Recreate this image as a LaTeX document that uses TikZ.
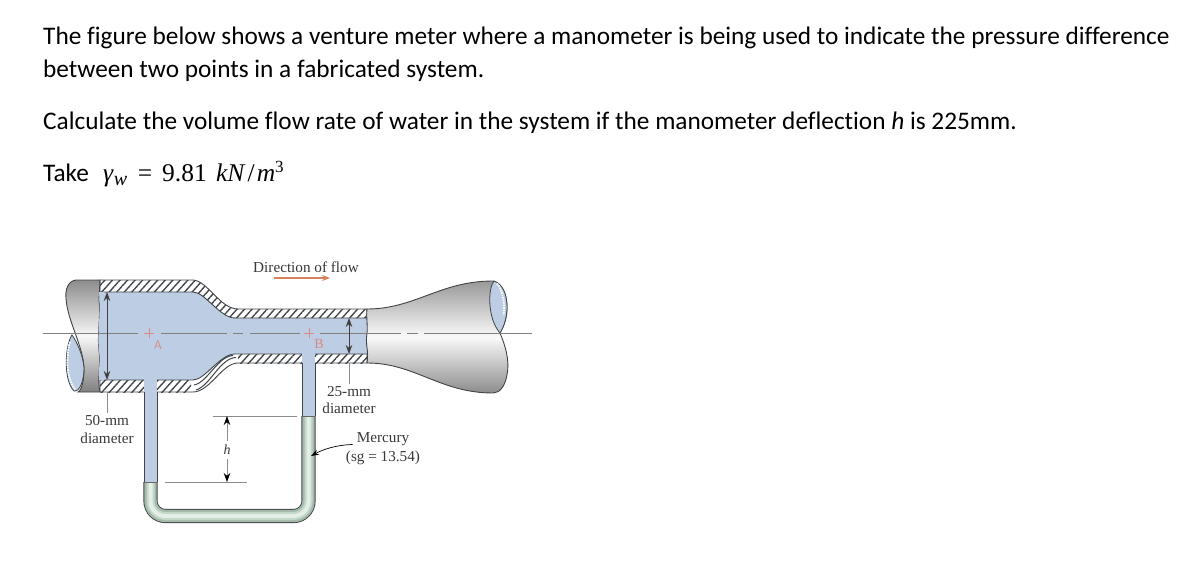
\documentclass[tikz,border=0pt]{standalone}
\usepackage[no-math]{fontspec}
\usepackage{amsmath}
\setmainfont[Ligatures=NoCommon]{Carlito}
\newfontfamily\figfont{Liberation Serif}
\usetikzlibrary{arrows.meta,patterns.meta}
\definecolor{water}{HTML}{BDCDE3}
\definecolor{mercury}{HTML}{C3D8C8}
\definecolor{edge}{HTML}{3F4448}
\definecolor{flow}{HTML}{D9825A}
\definecolor{marker}{HTML}{D98A86}
\tikzset{
  textline/.style={anchor=base west, inner sep=0pt, font=\fontsize{25.3}{28}\selectfont},
  figlabel/.style={inner sep=0pt, text=black!78, font=\figfont\fontsize{15.2}{17}\selectfont},
  wall/.style={draw=edge, line width=.9pt, fill=white},
  hatch/.style={pattern={Lines[angle=48, distance=5.6pt, line width=1.35pt]}, pattern color=edge},
  dimline/.style={draw=black!45, line width=.7pt},
  dimtip/.style={-{Stealth[black, length=9pt, width=6.5pt]}},
  bothtip/.style={{Stealth[length=9pt, width=6.5pt]}-{Stealth[length=9pt, width=6.5pt]}},
  axisline/.style={draw=black!50, line width=.8pt}
}
\begin{document}
\begin{tikzpicture}[x=1pt, y=-1pt]
  \useasboundingbox (0,0) rectangle (1194,564);

  \node (line1) [textline] at (43,44.5) {The figure below shows a venture meter where a manometer is being used to indicate the pressure difference};
  \node (line2) [textline] at (43,77.5) {between two points in a fabricated system.};
  \node (line3) [textline] at (43,129.5) {Calculate the volume flow rate of water in the system if the manometer deflection \textit{h} is 225mm.};
  \node (line4) [textline] at (43,181.5) {Take};
  \node (formula) [textline, font=\figfont\fontsize{25.5}{28}\selectfont] at (103,181.5) {\textit{γ}\raisebox{-4pt}{\fontsize{20}{22}\selectfont\textit{w}}\ \,=\hspace{10pt}9.81\hspace{3pt} \textit{kN}\hspace{2pt}/\hspace{2pt}\textit{m}\raisebox{9pt}{\fontsize{17}{19}\selectfont 3}};

  \fill [water] (100,292) -- (193,292) .. controls (205,292) and (220,318) .. (235,318) -- (367,318) -- (367,354) -- (235,354) .. controls (220,354) and (205,380) .. (193,380) -- (100,380) -- cycle;

  \path [wall] (100,280) -- (193,280) .. controls (208,281) and (220,309) .. (238,309) -- (367,309) -- (367,318) -- (235,318) .. controls (220,318) and (205,292) .. (193,292) -- (100,292) -- cycle;
  \path [hatch] (100,280) -- (193,280) .. controls (208,281) and (220,309) .. (238,309) -- (367,309) -- (367,318) -- (235,318) .. controls (220,318) and (205,292) .. (193,292) -- (100,292) -- cycle;

  \path [wall] (100,380) -- (193,380) .. controls (205,380) and (220,354) .. (235,354) -- (367,354) -- (367,363) -- (238,363) .. controls (222,363) and (210,392) .. (193,392) -- (100,392) -- cycle;
  \fill [hatch] (100,380) rectangle (191,392);
  \fill [hatch] (238,354) rectangle (367,363);
  \draw [edge, line width=1pt] (196,390) .. controls (210,386) and (220,358) .. (236,357.5);
  \draw [edge, line width=1pt] (194,385) .. controls (207,383) and (218,356) .. (233,355.5);

  % left end of the pipe
  \path [draw=edge, line width=.9pt, top color=black!45, bottom color=black!50, middle color=black!3] (100,280) -- (76,280) .. controls (68,281) and (65,290) .. (66,298) .. controls (67,320) and (83,345) .. (84,368) .. controls (84,380) and (82,390) .. (78,392) -- (100,392) .. controls (97,380) and (101,365) .. (99,350) .. controls (97,335) and (101,315) .. (99,300) -- cycle;
  \path [draw=edge, line width=.8pt, fill=water] (72,335) .. controls (65,345) and (63,380) .. (74,391) .. controls (80,392) and (84,380) .. (84,368) .. controls (83,355) and (77,342) .. (72,335) -- cycle;
  \draw [white, line width=1.8pt, dash pattern=on 1.5pt off 1pt] (70,342) .. controls (66,355) and (66,378) .. (75,389);
  \fill [water] (99,292) .. controls (101,315) and (97,335) .. (99,350) .. controls (101,365) and (97,375) .. (100,380) -- (104,380) -- (104,292) -- cycle;

  % right end of the pipe
  \path [draw=edge, line width=.9pt, top color=black!40, bottom color=black!45, middle color=black!2] (367,309) .. controls (415,309) and (440,281) .. (493,281) .. controls (503,284) and (507,295) .. (507,308) .. controls (507,318) and (504,326) .. (500,333) .. controls (505,345) and (510,360) .. (507,375) .. controls (505,386) and (500,393) .. (493,393) .. controls (440,393) and (415,363) .. (367,363) .. controls (369,350) and (365,345) .. (367,333) .. controls (368,325) and (366,318) .. (367,309) -- cycle;
  \path [draw=edge, line width=.8pt, fill=water] (494,281) .. controls (488,288) and (487,318) .. (500,333) .. controls (505,325) and (507,315) .. (507,307) .. controls (507,295) and (503,284) .. (494,281) -- cycle;
  \draw [white, line width=1.8pt, dash pattern=on 1.5pt off 1pt] (497,283.5) .. controls (503,290) and (505,305) .. (503.5,315);

  % manometer
  \fill [water] (144,378) rectangle (157,482);
  \fill [water] (302,352) rectangle (315,416);
  \draw [edge, line width=.9pt] (144,392) -- (144,482) (157,392) -- (157,482);
  \draw [edge, line width=.9pt] (302,363) -- (302,416) (315,363) -- (315,416);
  \foreach \w/\c in {14.2/edge, 12.4/mercury!85!black, 8/mercury, 4/mercury!45!white}
    \draw [\c, line width=\w pt, rounded corners=15pt] (150.5,482) -- (150.5,516) -- (308.5,516) -- (308.5,416);
  \draw [black!60, line width=.7pt] (144,482) -- (157,482) (302,416) -- (315,416);

  % centre line and section marks
  \coordinate (cl0) at (43,333);
  \coordinate (cl1) at (532,333);
  \draw [axisline] (cl0) -- (138,333) (161,333) -- (227,333) (233,333) -- (243,333) (250,333) -- (300,333) (320,333) -- (401,333) (407,333) -- (418,333) (424,333) -- (cl1);
  \draw [marker, line width=.7pt] (144,333) -- (154,333) (149,328) -- (149,338);
  \draw [marker, line width=.7pt] (304,333) -- (314,333) (309,328) -- (309,338);
  \node (labelA) [figlabel, text=marker, font=\sffamily\fontsize{12.5}{14}\selectfont] at (158,345) {A};
  \node (labelB) [figlabel, text=marker, font=\figfont\fontsize{14}{16}\selectfont] at (319,344) {B};

  % flow direction
  \node (flowtext) [figlabel] at (306,267) {Direction of flow};
  \coordinate (flow0) at (274,278);
  \coordinate (flow1) at (330,278);
  \draw [flow, line width=1.1pt, -{Stealth[length=8pt, width=6pt]}] (flow0) -- (flow1);

  % diameters
  \coordinate (big0) at (107,292);
  \coordinate (big1) at (107,380);
  \coordinate (bigwall) at (107,392);
  \draw [draw=black!75, line width=.7pt, bothtip] (big0) -- (big1);
  \node (big50) [figlabel] at (107,421) {50-mm};
  \node (bigdia) [figlabel] at (107,438) {diameter};
  \draw [dimline, shorten >=3pt] (bigwall) -- (big50);

  \coordinate (small0) at (349,318);
  \coordinate (small1) at (349,354);
  \coordinate (smallwall) at (349,363);
  \draw [draw=black!75, line width=.7pt, bothtip] (small0) -- (small1);
  \node (small25) [figlabel] at (349,392) {25-mm};
  \node (smalldia) [figlabel] at (349,408) {diameter};
  \draw [dimline, shorten >=3pt] (smallwall) -- (small25);

  % deflection
  \coordinate (hline0) at (213,416);
  \coordinate (hline1) at (297,416);
  \coordinate (hline2) at (165,482);
  \coordinate (hline3) at (247,482);
  \coordinate (htop) at (227,416);
  \coordinate (hbot) at (227,482);
  \draw [dimline] (hline0) -- (hline1);
  \draw [dimline] (hline2) -- (hline3);
  \node (hlabel) [figlabel, font=\figfont\itshape\fontsize{14}{16}\selectfont] at (227,450) {h};
  \draw [dimline, dimtip, shorten <=4pt] (hlabel) -- (htop);
  \draw [dimline, dimtip, shorten <=4pt] (hlabel) -- (hbot);

  % mercury
  \node (merc) [figlabel] at (383,439.5) {Mercury};
  \node (mercsg) [figlabel] at (383,457.5) {(sg = 13.54)};
  \coordinate (mercend) at (311,456);
  \draw [black, line width=.7pt, -{Stealth[length=8pt, width=5.5pt]}] (merc.west) ++(-4,5) .. controls (335,445) and (322,450) .. (mercend);
\end{tikzpicture}
\end{document}
